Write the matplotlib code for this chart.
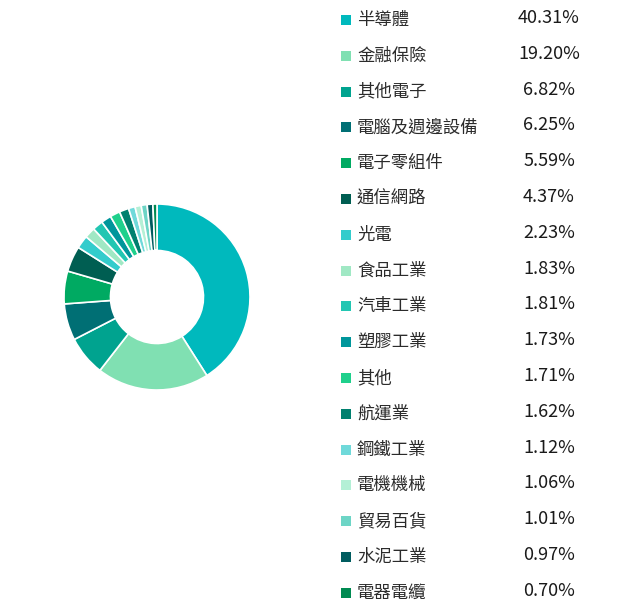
import matplotlib
matplotlib.use('Agg')
import matplotlib.pyplot as plt

plt.rcParams['font.family'] = ['Noto Sans CJK TC', 'DejaVu Sans']

# industry weights (%)
labels = ['半導體', '金融保險', '其他電子', '電腦及週邊設備', '電子零組件', '通信網路',
          '光電', '食品工業', '汽車工業', '塑膠工業', '其他', '航運業',
          '鋼鐵工業', '電機機械', '貿易百貨', '水泥工業', '電器電纜']
weights = [40.31, 19.20, 6.82, 6.25, 5.59, 4.37,
           2.23, 1.83, 1.81, 1.73, 1.71, 1.62,
           1.12, 1.06, 1.01, 0.97, 0.70]
colors = ['#00b9bd', '#80e0b2', '#00a38f', '#006f74', '#00aa62', '#005e52',
          '#33cccc', '#a0e8c4', '#22c6b2', '#00969b', '#1fd08c', '#00806f',
          '#6fd9da', '#b4f0d6', '#6dd5c6', '#005c5f', '#008a52']

W, H = 632, 608
fig = plt.figure(figsize=(W / 100, H / 100), dpi=100)

# donut
cx, cy, r = 157, 297, 93
ax = fig.add_axes([(cx - r) / W, (H - cy - r) / H, 2 * r / W, 2 * r / H])
ax.pie(weights, colors=colors, startangle=90, counterclock=False,
       wedgeprops=dict(width=0.5, edgecolor='white', linewidth=1.2))
ax.set_xlim(-1, 1)
ax.set_ylim(-1, 1)
ax.set_aspect('equal')
ax.axis('off')

# legend drawn in pixel coords
lg = fig.add_axes([0, 0, 1, 1])
lg.set_xlim(0, W)
lg.set_ylim(H, 0)
lg.axis('off')
y0, step = 20, 35.8
for i, (lab, w, c) in enumerate(zip(labels, weights, colors)):
    y = y0 + i * step
    lg.scatter([346], [y], marker='s', s=62, color=c, linewidths=0)
    lg.text(357, y, lab, fontsize=12.5, color='#2b2b2b', va='center', ha='left')
    lg.text(549, y - 2, f'{w:.2f}%', fontsize=13, color='#1a1a1a', va='center', ha='center')

fig.savefig('out.png', dpi=100)
